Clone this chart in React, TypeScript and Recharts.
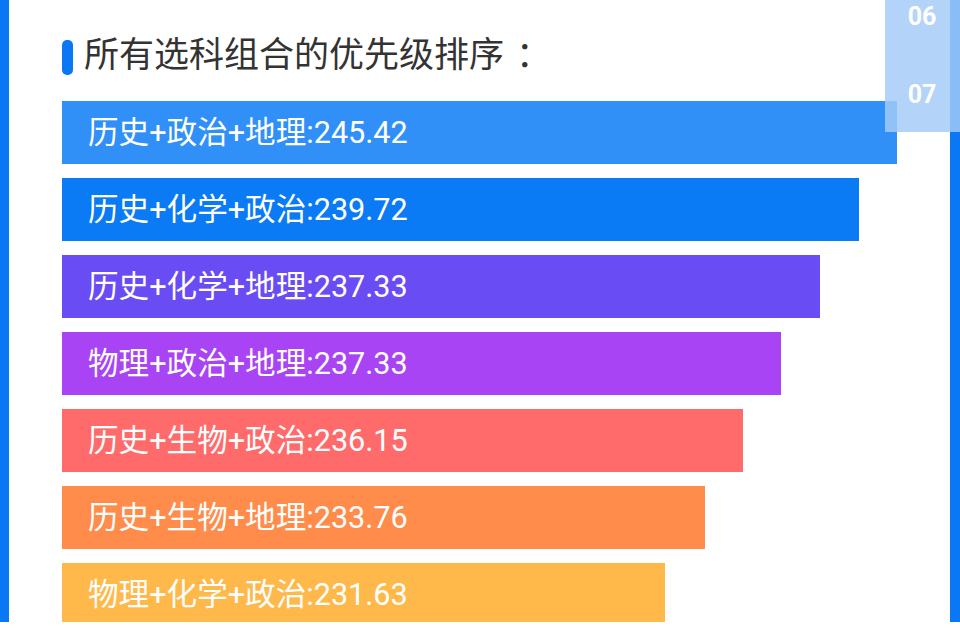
import { BarChart, Bar, XAxis, YAxis, Cell, LabelList } from "recharts";

const combos = [
  "历史+政治+地理",
  "历史+化学+政治",
  "历史+化学+地理",
  "物理+政治+地理",
  "历史+生物+政治",
  "历史+生物+地理",
  "物理+化学+政治",
];
const scores = [245.42, 239.72, 237.33, 237.33, 236.15, 233.76, 231.63];
// the bars form a staircase by rank, not by score; lengths
const barLength = [835, 797, 758, 719, 681, 643, 603];
const colors = ["#3090f8", "#0a7af5", "#6a4cf4", "#a844f4", "#ff6b6b", "#ff8c4a", "#ffb84a"];
const sideTabs = ["06", "07"];

const data = combos.map((name, i) => ({ name, score: scores[i], len: barLength[i] }));

const FONT = "Roboto, 'Noto Sans CJK SC', sans-serif";

const BarText = (props: any) => {
  const { x, y, height, index } = props;
  const d = data[index];
  return (
    <text
      x={x + 26}
      y={y + height / 2}
      dominantBaseline="central"
      fill="#fff"
      fontSize={30.6}
      fontFamily={FONT}
    >
      {d.name}:{d.score.toFixed(2)}
    </text>
  );
};

export default function App() {
  return (
    <div
      style={{
        position: "absolute",
        left: 0,
        top: 0,
        width: 960,
        height: 636,
        background: "#fff",
        overflow: "hidden",
        fontFamily: FONT,
      }}
    >
      <BarChart
        width={960}
        height={636}
        data={data}
        layout="vertical"
        margin={{ top: 94, right: 0, bottom: 3, left: 62 }}
        barSize={63}
      >
        <XAxis type="number" domain={[0, 898]} hide />
        <YAxis type="category" dataKey="name" hide />
        <Bar dataKey="len" isAnimationActive={false}>
          {data.map((_, i) => (
            <Cell key={i} fill={colors[i]} />
          ))}
          <LabelList dataKey="len" content={BarText} />
        </Bar>
      </BarChart>

      {/* page frame */}
      <div style={{ position: "absolute", left: 0, top: 0, width: 9, height: 622, background: "#0a78f5" }} />
      <div style={{ position: "absolute", left: 950, top: 0, width: 10, height: 622, background: "#0a78f5" }} />
      <div style={{ position: "absolute", left: 0, top: 622, width: 960, height: 14, background: "#fff" }} />

      {/* title */}
      <div
        style={{
          position: "absolute",
          left: 62,
          top: 40,
          width: 11,
          height: 35,
          borderRadius: 5,
          background: "#0a78f5",
        }}
      />
      <div
        style={{
          position: "absolute",
          left: 84,
          top: 34,
          fontSize: 35,
          lineHeight: "44px",
          color: "#333",
          whiteSpace: "nowrap",
        }}
      >
        所有选科组合的优先级排序<span style={{ paddingLeft: 12 }}>：</span>
      </div>

      {/* side tab overlay */}
      <div
        style={{
          position: "absolute",
          left: 885,
          top: 0,
          width: 75,
          height: 132,
          background: "rgba(164, 203, 247, 0.83)",
        }}
      />
      {sideTabs.map((t, i) => (
        <div
          key={t}
          style={{
            position: "absolute",
            left: 886,
            width: 72,
            top: i === 0 ? 2 : 80,
            height: 30,
            lineHeight: "30px",
            textAlign: "center",
            color: "#fff",
            fontWeight: 700,
            fontSize: 25,
          }}
        >
          {t}
        </div>
      ))}
    </div>
  );
}
